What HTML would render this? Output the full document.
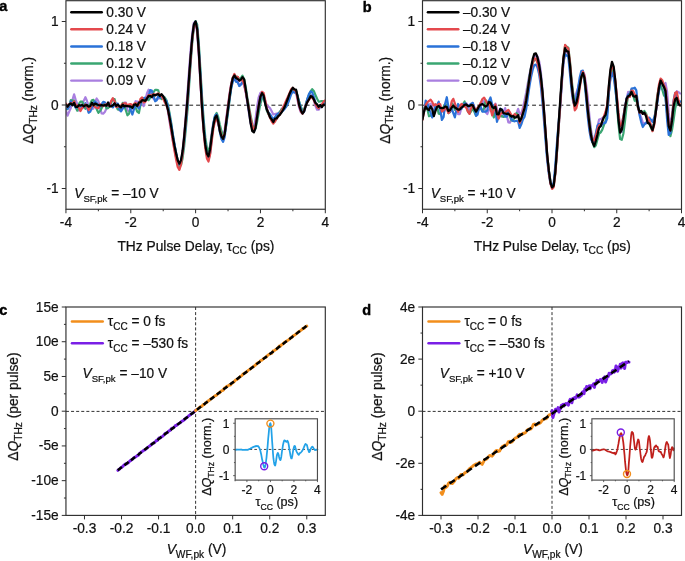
<!DOCTYPE html>
<html><head><meta charset="utf-8"><title>Figure</title>
<style>html,body{margin:0;padding:0;background:#fff}body{width:685px;height:561px;overflow:hidden}</style></head>
<body>
<svg width="685" height="561" viewBox="0 0 685 561" style="display:block">
<style>
text{font-family:"Liberation Sans", Arial, Helvetica, sans-serif;fill:#111;stroke:#111;stroke-width:0.22px}
.t12{font-size:13.7px}
.t13{font-size:13.8px}
.t11{font-size:12.6px}
.t10{font-size:12px}
.lab{font-size:14.5px;font-weight:bold;fill:#000;stroke:#000;stroke-width:0.4px}
</style>
<defs><clipPath id="clipA"><rect x="65.95" y="0.7" width="259.35" height="208.5"/></clipPath><clipPath id="clipB"><rect x="422.5" y="0.7" width="259.0" height="208.5"/></clipPath></defs>
<rect width="685" height="561" fill="#fff"/>
<line x1="65.95" y1="105.2" x2="325.3" y2="105.2" stroke="#1a1a1a" stroke-width="1" stroke-dasharray="3.9 2.95"/>
<g clip-path="url(#clipA)">
<polyline points="66,110.8 67.6,115.7 69.2,111.6 70.8,108.1 72.4,100 74.1,94.4 75.7,99.9 77.3,104.2 78.9,110.4 80.5,109.8 82.2,104 83.8,100.6 85.4,97.2 87,101 88.6,106 90.3,108.6 91.9,109.2 93.5,108.4 95.1,101.8 96.7,98.5 98.4,101.1 100,107 101.6,113.4 103.2,113.6 104.8,112 106.5,108.6 108.1,105.8 109.7,104.1 111.3,100.8 112.9,99.4 114.6,101.4 116.2,104.8 117.8,106.8 119.4,110.4 121,109.1 122.7,106.9 124.3,102.6 125.9,102.6 127.5,110.2 129.1,111.5 130.8,110.1 132.4,108.7 134,105.5 135.6,101.2 137.2,101.6 138.9,102 140.5,101.5 142.1,103.5 143.7,106.1 145.3,100.5 147,93.3 148.6,89.7 150.2,91.7 151.8,96.1 153.4,98.5 155.1,100.3 156.7,98.8 158.3,98.7 159.9,98.2 161.5,95.3 163.2,96.2 164.8,97.8 166.4,102.9 168,111.9 169.6,121.9 171.3,132 172.9,140.9 174.5,148.9 176.1,157.2 177.7,164.5 179.4,167.6 181,162.4 182.6,151.3 184.2,134.7 185.8,115 187.5,92.9 189.1,69.8 190.7,49.3 192.3,32.7 193.9,22.6 195.6,21.7 197.2,33.4 198.8,56.2 200.4,82.6 202,108.4 203.7,130.6 205.3,145.1 206.9,152.7 208.5,154 210.1,145.2 211.8,132.4 213.4,122.2 215,117.5 216.6,118.1 218.2,123.9 219.9,130.5 221.5,134.6 223.1,135.7 224.7,129.7 226.3,117.6 228,105.2 229.6,93.5 231.2,83.9 232.8,77.9 234.4,75.3 236.1,79.8 237.7,81.7 239.3,85.5 240.9,84 242.5,82.3 244.2,85.5 245.8,93 247.4,103 249,113.6 250.6,123.2 252.3,128.5 253.9,128.2 255.5,119.1 257.1,107 258.7,97.3 260.4,93 262,91.8 263.6,95 265.2,101 266.8,105.3 268.5,106.7 270.1,108.3 271.7,111.2 273.3,114.5 274.9,114 276.6,113.7 278.2,113.4 279.8,112 281.4,109.5 283,107.5 284.7,105.6 286.3,103.8 287.9,101 289.5,96.2 291.1,91.4 292.8,89.1 294.4,90 296,92.3 297.6,100.4 299.2,107.9 300.9,112.3 302.5,113.2 304.1,109.8 305.7,104.4 307.3,100.1 309,97 310.6,94.7 312.2,95.4 313.8,99.9 315.4,105.9 317.1,109.7 318.7,109.7 320.3,106 321.9,104.8 323.5,102.8 325.2,103" fill="none" stroke="#a97fe0" stroke-width="2.2" stroke-linejoin="round" stroke-linecap="round"/>
<polyline points="66,108.8 67.6,109.1 69.2,106 70.8,100.1 72.4,100.7 74.1,100.5 75.7,107.3 77.3,110.7 78.9,103.9 80.5,101.7 82.2,101.5 83.8,105.9 85.4,108.8 87,107.3 88.6,106.5 90.3,103.6 91.9,100.3 93.5,99.9 95.1,104.4 96.7,109.2 98.4,112.9 100,110.9 101.6,108.4 103.2,104.5 104.8,103.4 106.5,108.3 108.1,108.1 109.7,106.2 111.3,102.6 112.9,98.9 114.6,99 116.2,105.8 117.8,109.5 119.4,109.7 121,107.2 122.7,102.8 124.3,106 125.9,110.5 127.5,115.3 129.1,113.8 130.8,106.5 132.4,106.4 134,107.2 135.6,107.3 137.2,111.7 138.9,113 140.5,104.9 142.1,99.7 143.7,98.9 145.3,98.8 147,99.4 148.6,100.2 150.2,97.9 151.8,95.8 153.4,92.3 155.1,89.9 156.7,89.9 158.3,90.4 159.9,97.1 161.5,99.1 163.2,96.8 164.8,97.5 166.4,100 168,105.4 169.6,113.1 171.3,123.4 172.9,135.3 174.5,144.7 176.1,152.6 177.7,160.6 179.4,165.9 181,165.2 182.6,158.2 184.2,146 185.8,129.2 187.5,110.2 189.1,86.1 190.7,62.8 192.3,42 193.9,27.2 195.6,21.1 197.2,24.5 198.8,43.4 200.4,69.2 202,96.3 203.7,120 205.3,137.4 206.9,147.6 208.5,151.1 210.1,146.7 211.8,135 213.4,123.3 215,115.9 216.6,113 218.2,116.9 219.9,124.9 221.5,131.3 223.1,134.9 224.7,133.6 226.3,124.8 228,112.7 229.6,99.7 231.2,87.6 232.8,79.3 234.4,75 236.1,76.7 237.7,76.8 239.3,79.1 240.9,78.1 242.5,75.7 244.2,79.4 245.8,87.5 247.4,98.2 249,106.9 250.6,115.5 252.3,124.2 253.9,129.8 255.5,128.7 257.1,121.7 258.7,112.7 260.4,103.8 262,98.2 263.6,98.3 265.2,103.5 266.8,110.5 268.5,114.3 270.1,116.2 271.7,119.6 273.3,122.4 274.9,121.4 276.6,117.3 278.2,114.1 279.8,112 281.4,109.5 283,108.3 284.7,107.9 286.3,106.5 287.9,102.5 289.5,97.2 291.1,91.2 292.8,88.3 294.4,90.2 296,90.3 297.6,95.7 299.2,101.7 300.9,106.9 302.5,110.4 304.1,109.5 305.7,104.8 307.3,99.2 309,95 310.6,91.5 312.2,89.2 313.8,90.9 315.4,94.8 317.1,98.7 318.7,101.7 320.3,101.4 321.9,101 323.5,101.4 325.2,101.2" fill="none" stroke="#3aa672" stroke-width="2.2" stroke-linejoin="round" stroke-linecap="round"/>
<polyline points="66,104.4 67.6,108.8 69.2,106.7 70.8,101.2 72.4,103 74.1,104.6 75.7,107.7 77.3,107.3 78.9,106 80.5,106.2 82.2,107.1 83.8,107.4 85.4,103.2 87,107.2 88.6,112.8 90.3,111.6 91.9,107.2 93.5,103.6 95.1,101.5 96.7,102.9 98.4,107.8 100,106.5 101.6,104.1 103.2,101.9 104.8,102.3 106.5,105.4 108.1,104.1 109.7,103.4 111.3,105.1 112.9,107.3 114.6,104.8 116.2,103.9 117.8,103.5 119.4,108.9 121,111.4 122.7,108.6 124.3,106.9 125.9,104.7 127.5,105.6 129.1,105.5 130.8,110.3 132.4,114.5 134,109.3 135.6,104.4 137.2,106.6 138.9,108.5 140.5,103.8 142.1,99.4 143.7,98 145.3,97.7 147,99.2 148.6,96.1 150.2,90 151.8,90.5 153.4,95.5 155.1,101.3 156.7,100.3 158.3,96 159.9,97.4 161.5,97.1 163.2,97.6 164.8,99.3 166.4,101.1 168,106.7 169.6,115.6 171.3,124.9 172.9,134.9 174.5,144.3 176.1,153.1 177.7,160.7 179.4,164.4 181,161.3 182.6,153.4 184.2,140.7 185.8,124.1 187.5,104.5 189.1,80.6 190.7,58.3 192.3,38.9 193.9,25.9 195.6,21.7 197.2,27.7 198.8,48.1 200.4,74.2 202,101 203.7,126.1 205.3,143.9 206.9,155.3 208.5,159.7 210.1,153.3 211.8,138.4 213.4,124.1 215,115.8 216.6,114.4 218.2,121.9 219.9,132.2 221.5,139.2 223.1,141.8 224.7,136.9 226.3,123.8 228,110.6 229.6,98.6 231.2,88.3 232.8,81.8 234.4,78.2 236.1,81.8 237.7,82.1 239.3,86.1 240.9,84.7 242.5,81.9 244.2,84.5 245.8,91.1 247.4,100.7 249,110.7 250.6,120.4 252.3,128.2 253.9,131.9 255.5,126.3 257.1,116.2 258.7,106.7 260.4,99.6 262,94.8 263.6,96 265.2,102.5 266.8,109 268.5,112.4 270.1,114.2 271.7,116.9 273.3,119.3 274.9,117.3 276.6,114.8 278.2,113.5 279.8,113.1 281.4,111.9 283,110.7 284.7,108.8 286.3,106.3 287.9,103.3 289.5,99.2 291.1,94.3 292.8,91.6 294.4,92.7 296,91.7 297.6,96.7 299.2,102.5 300.9,108.9 302.5,113.2 304.1,111.8 305.7,106 307.3,99.1 309,93.9 310.6,91.5 312.2,92.3 313.8,96.9 315.4,102.4 317.1,106.7 318.7,108.6 320.3,106.8 321.9,106.6 323.5,104.6 325.2,103.8" fill="none" stroke="#2a72d8" stroke-width="2.2" stroke-linejoin="round" stroke-linecap="round"/>
<polyline points="66,103.6 67.6,106.4 69.2,104.3 70.8,103.2 72.4,104 74.1,101.3 75.7,105.1 77.3,105.5 78.9,107.8 80.5,111 82.2,107.9 83.8,106.7 85.4,104.5 87,106.4 88.6,110 90.3,107.6 91.9,103.3 93.5,105.4 95.1,106.8 96.7,107.9 98.4,108.3 100,104.2 101.6,105.1 103.2,106.2 104.8,104.7 106.5,104.4 108.1,105.4 109.7,105.6 111.3,100.8 112.9,98.2 114.6,101.2 116.2,106.9 117.8,106.4 119.4,106.5 121,105.7 122.7,103.7 124.3,103.3 125.9,103.3 127.5,105.8 129.1,104.4 130.8,104.1 132.4,105.6 134,104 135.6,102.8 137.2,105.5 138.9,105.1 140.5,98.8 142.1,97.4 143.7,102.4 145.3,101.8 147,97.8 148.6,95.2 150.2,95.1 151.8,95.7 153.4,94 155.1,94.6 156.7,94.6 158.3,93.3 159.9,94.6 161.5,95.7 163.2,98.9 164.8,102.3 166.4,105.2 168,110.1 169.6,119.5 171.3,130.7 172.9,141.4 174.5,150.9 176.1,159.6 177.7,166.9 179.4,169.9 181,164.7 182.6,153.6 184.2,137.9 185.8,119.6 187.5,100.9 189.1,79.1 190.7,57.7 192.3,38.8 193.9,26.1 195.6,22.6 197.2,30 198.8,51.9 200.4,80 202,109.8 203.7,132.5 205.3,148.6 206.9,158.4 208.5,161.5 210.1,154.5 211.8,140.8 213.4,128.4 215,121.1 216.6,118.6 218.2,122.8 219.9,130 221.5,135.7 223.1,138.3 224.7,133.7 226.3,120.5 228,106.7 229.6,94.4 231.2,84.1 232.8,77.7 234.4,73.9 236.1,77.3 237.7,76.8 239.3,80.6 240.9,80.2 242.5,80 244.2,84.7 245.8,91.9 247.4,100.6 249,109.1 250.6,118.2 252.3,126.1 253.9,130.7 255.5,125.9 257.1,116 258.7,105.7 260.4,97.4 262,91.8 263.6,92.9 265.2,100.2 266.8,108.2 268.5,113.8 270.1,117.8 271.7,121.4 273.3,123.7 274.9,121.6 276.6,118.8 278.2,116.7 279.8,114.6 281.4,111.3 283,107.8 284.7,103.9 286.3,100.2 287.9,96.8 289.5,93.2 291.1,89.4 292.8,87.8 294.4,90 296,90.7 297.6,98.6 299.2,106 300.9,111.5 302.5,113.7 304.1,110.7 305.7,105.8 307.3,102.1 309,99.6 310.6,97.6 312.2,97.4 313.8,100 315.4,103.7 317.1,107.1 318.7,108.3 320.3,105.7 321.9,104.6 323.5,101.7 325.2,100.4" fill="none" stroke="#e4494d" stroke-width="2.2" stroke-linejoin="round" stroke-linecap="round"/>
<polyline points="66,104.7 67.6,106.7 69.2,104.3 70.8,103.5 72.4,105.3 74.1,103 75.7,106.8 77.3,106.9 78.9,105.2 80.5,105.5 82.2,105 83.8,106.3 85.4,105.3 87,105.1 88.6,106.7 90.3,106 91.9,102.7 93.5,105.2 95.1,103.5 96.7,104.3 98.4,105 100,105.3 101.6,105.1 103.2,105.5 104.8,105.2 106.5,105.7 108.1,102.5 109.7,106.3 111.3,106.4 112.9,105.3 114.6,103.3 116.2,106 117.8,104.6 119.4,106.3 121,107.3 122.7,104.6 124.3,106.4 125.9,105.9 127.5,106.1 129.1,106.3 130.8,106.7 132.4,107.9 134,104.8 135.6,104.2 137.2,106 138.9,102.5 140.5,102.2 142.1,100.1 143.7,100.3 145.3,100.9 147,98.5 148.6,95.9 150.2,96.1 151.8,97 153.4,94.7 155.1,95.4 156.7,94.5 158.3,94.1 159.9,96 161.5,94.1 163.2,96.2 164.8,99.5 166.4,104.2 168,109.8 169.6,117.9 171.3,127.4 172.9,137.3 174.5,145.9 176.1,153.5 177.7,160.2 179.4,163.7 181,160.1 182.6,151 184.2,136.6 185.8,118.6 187.5,98.6 189.1,76.4 190.7,55.2 192.3,36.7 193.9,24.4 195.6,21.4 197.2,29.4 198.8,51.5 200.4,79.1 202,107.3 203.7,129.7 205.3,144.9 206.9,153.7 208.5,156.3 210.1,149.2 211.8,135.9 213.4,125.2 215,117.7 216.6,115.5 218.2,121.5 219.9,131.4 221.5,136.6 223.1,138.8 224.7,134 226.3,121.4 228,108.8 229.6,96.4 231.2,85.7 232.8,78.1 234.4,75.5 236.1,78 237.7,79 239.3,80.5 240.9,79.5 242.5,77.1 244.2,79.4 245.8,89.8 247.4,100.9 249,111.3 250.6,123.3 252.3,131.2 253.9,132.4 255.5,128.2 257.1,116.7 258.7,105.8 260.4,96.8 262,93.1 263.6,95.4 265.2,103.6 266.8,109.5 268.5,113.2 270.1,117.5 271.7,119.4 273.3,122 274.9,118.7 276.6,118.5 278.2,116.2 279.8,114.9 281.4,112.7 283,110 284.7,106.9 286.3,102.7 287.9,98.5 289.5,93.9 291.1,90.5 292.8,87.8 294.4,89.4 296,89.5 297.6,96.6 299.2,105.2 300.9,110.5 302.5,113.6 304.1,111.4 305.7,106 307.3,102.1 309,99.2 310.6,96.2 312.2,96.6 313.8,99.3 315.4,102.9 317.1,104.3 318.7,106.8 320.3,104.9 321.9,107.2 323.5,104.7 325.2,105.1" fill="none" stroke="#000" stroke-width="2.25" stroke-linejoin="round" stroke-linecap="round"/>
</g>
<rect x="65.95" y="0.7" width="259.35" height="208.55" fill="none" stroke="#2e2e2e" stroke-width="1.15"/>
<line x1="65.95" y1="209.25" x2="65.95" y2="213.25" stroke="#2e2e2e" stroke-width="1"/>
<text transform="translate(65.95,226.7) scale(1,1.035)" text-anchor="middle" class="t12">-4</text>
<line x1="98.37" y1="209.25" x2="98.37" y2="211.25" stroke="#2e2e2e" stroke-width="1"/>
<line x1="130.79" y1="209.25" x2="130.79" y2="213.25" stroke="#2e2e2e" stroke-width="1"/>
<text transform="translate(130.79,226.7) scale(1,1.035)" text-anchor="middle" class="t12">-2</text>
<line x1="163.21" y1="209.25" x2="163.21" y2="211.25" stroke="#2e2e2e" stroke-width="1"/>
<line x1="195.62" y1="209.25" x2="195.62" y2="213.25" stroke="#2e2e2e" stroke-width="1"/>
<text transform="translate(195.62,226.7) scale(1,1.035)" text-anchor="middle" class="t12">0</text>
<line x1="228.04" y1="209.25" x2="228.04" y2="211.25" stroke="#2e2e2e" stroke-width="1"/>
<line x1="260.46" y1="209.25" x2="260.46" y2="213.25" stroke="#2e2e2e" stroke-width="1"/>
<text transform="translate(260.46,226.7) scale(1,1.035)" text-anchor="middle" class="t12">2</text>
<line x1="292.88" y1="209.25" x2="292.88" y2="211.25" stroke="#2e2e2e" stroke-width="1"/>
<line x1="325.3" y1="209.25" x2="325.3" y2="213.25" stroke="#2e2e2e" stroke-width="1"/>
<text transform="translate(325.3,226.7) scale(1,1.035)" text-anchor="middle" class="t12">4</text>
<line x1="61.75" y1="188.5" x2="65.95" y2="188.5" stroke="#2e2e2e" stroke-width="1"/>
<text transform="translate(58.65,193) scale(1,1.035)" text-anchor="end" class="t12">-1</text>
<line x1="63.95" y1="146.75" x2="65.95" y2="146.75" stroke="#2e2e2e" stroke-width="1"/>
<line x1="61.75" y1="105" x2="65.95" y2="105" stroke="#2e2e2e" stroke-width="1"/>
<text transform="translate(58.65,109.5) scale(1,1.035)" text-anchor="end" class="t12">0</text>
<line x1="63.95" y1="63.25" x2="65.95" y2="63.25" stroke="#2e2e2e" stroke-width="1"/>
<line x1="61.75" y1="21.5" x2="65.95" y2="21.5" stroke="#2e2e2e" stroke-width="1"/>
<text transform="translate(58.65,26) scale(1,1.035)" text-anchor="end" class="t12">1</text>
<line x1="71.35" y1="12.2" x2="101.75" y2="12.2" stroke="#000" stroke-width="2.45" stroke-linecap="round"/>
<text transform="translate(106.35,16.8) scale(1,1.035)" class="t12">0.30 V</text>
<line x1="71.35" y1="29.3" x2="101.75" y2="29.3" stroke="#e4494d" stroke-width="2.45" stroke-linecap="round"/>
<text transform="translate(106.35,33.9) scale(1,1.035)" class="t12">0.24 V</text>
<line x1="71.35" y1="46.4" x2="101.75" y2="46.4" stroke="#2a72d8" stroke-width="2.45" stroke-linecap="round"/>
<text transform="translate(106.35,51) scale(1,1.035)" class="t12">0.18 V</text>
<line x1="71.35" y1="63.5" x2="101.75" y2="63.5" stroke="#3aa672" stroke-width="2.45" stroke-linecap="round"/>
<text transform="translate(106.35,68.1) scale(1,1.035)" class="t12">0.12 V</text>
<line x1="71.35" y1="80.6" x2="101.75" y2="80.6" stroke="#a97fe0" stroke-width="2.45" stroke-linecap="round"/>
<text transform="translate(106.35,85.2) scale(1,1.035)" class="t12">0.09 V</text>
<text transform="translate(74.25,197.7) scale(1,1.035)" class="t12"><tspan font-style="italic">V</tspan><tspan dy="4.2" font-size="9.6">SF,pk</tspan><tspan dy="-4.2"> = –10 V</tspan></text>
<text transform="translate(33.05,100.3) rotate(-90) scale(1,1.035)" text-anchor="middle" class="t13">Δ<tspan font-style="italic">Q</tspan><tspan dy="3.7" font-size="10.2">THz</tspan><tspan dy="-3.7"> (norm.)</tspan></text>
<text transform="translate(195.93,250.5) scale(1,1.035)" text-anchor="middle" class="t13">THz Pulse Delay, τ<tspan dy="3.7" font-size="10.2">CC</tspan><tspan dy="-3.7"> (ps)</tspan></text>
<line x1="422.5" y1="105.2" x2="681.5" y2="105.2" stroke="#1a1a1a" stroke-width="1" stroke-dasharray="3.9 2.95"/>
<g clip-path="url(#clipB)">
<polyline points="422.5,118.5 424.1,110.4 425.7,105.6 427.4,104.9 429,105.3 430.6,103.6 432.2,106.8 433.8,111.4 435.5,106.6 437.1,105.7 438.7,106.3 440.3,107 441.9,110.6 443.6,112.3 445.2,109.5 446.8,107.1 448.4,109.1 450,108.1 451.7,105.4 453.3,104.3 454.9,105 456.5,108.9 458.1,114.2 459.8,114.1 461.4,107.8 463,104.4 464.6,104.4 466.2,103.1 467.9,105.6 469.5,110.7 471.1,109.1 472.7,102.8 474.3,107.1 476,114.8 477.6,111.5 479.2,108.9 480.8,106.5 482.4,99.8 484.1,102.8 485.7,112.2 487.3,114.1 488.9,110.1 490.5,108.7 492.2,112.5 493.8,110 495.4,103.6 497,108.4 498.6,115.2 500.3,115.5 501.9,116.6 503.5,111.9 505.1,108.1 506.7,114.9 508.4,122.4 510,122.6 511.6,118.3 513.2,115.7 514.8,115.5 516.5,113.7 518.1,108.8 519.7,114.4 521.3,113.3 522.9,108.2 524.6,100.3 526.2,92.4 527.8,83.4 529.4,74.5 531,67.7 532.7,62 534.3,57.2 535.9,54.6 537.5,56.3 539.1,61 540.8,71.5 542.4,88.2 544,110.2 545.6,133.4 547.2,155.9 548.9,171.3 550.5,181.8 552.1,185.8 553.7,184.2 555.3,172.4 557,150.9 558.6,128.2 560.2,108 561.8,84.4 563.4,63.5 565.1,50.4 566.7,52.4 568.3,53.2 569.9,65.3 571.5,82.3 573.2,94.7 574.8,98.6 576.4,92.9 578,88 579.6,81.6 581.3,75.3 582.9,71.8 584.5,74.6 586.1,84.4 587.7,97.3 589.4,115.6 591,129.6 592.6,137.8 594.2,140.4 595.8,135.5 597.5,126.2 599.1,119.5 600.7,119.1 602.3,118.2 603.9,116.7 605.6,115.6 607.2,111.1 608.8,93.1 610.4,77.1 612,69.2 613.7,72.3 615.3,82.3 616.9,97.7 618.5,116.1 620.1,131.1 621.8,132 623.4,125.7 625,112.7 626.6,99.1 628.2,91.8 629.9,93.5 631.5,91.4 633.1,94.7 634.7,98.6 636.3,96.9 638,106.2 639.6,113.8 641.2,117.6 642.8,122.7 644.4,123.2 646.1,123.3 647.7,122.6 649.3,122.7 650.9,125 652.5,128.9 654.2,122.4 655.8,111.2 657.4,99.3 659,91.1 660.6,86.6 662.3,86.2 663.9,86.3 665.5,83 667.1,91.6 668.7,112.7 670.4,124.1 672,118 673.6,107 675.2,97.7 676.8,91.2 678.5,92.1 680.1,93.5" fill="none" stroke="#a97fe0" stroke-width="2.2" stroke-linejoin="round" stroke-linecap="round"/>
<polyline points="422.5,113.4 424.1,108.5 425.7,105.8 427.4,109.2 429,116.2 430.6,115.4 432.2,115.6 433.8,115.8 435.5,106.5 437.1,106.5 438.7,113.8 440.3,114.2 441.9,109.6 443.6,106.7 445.2,104.1 446.8,104.7 448.4,113.1 450,112 451.7,103.1 453.3,105.9 454.9,109.9 456.5,108.4 458.1,109.1 459.8,108.4 461.4,107.3 463,104 464.6,101.5 466.2,106 467.9,111.5 469.5,113.6 471.1,111.3 472.7,108.4 474.3,111.8 476,115.5 477.6,111.6 479.2,107.1 480.8,108.6 482.4,111.2 484.1,107.9 485.7,100.3 487.3,102.3 488.9,104.1 490.5,101 492.2,109.9 493.8,117.5 495.4,112.3 497,112.4 498.6,117.2 500.3,116 501.9,116.1 503.5,116.9 505.1,116.2 506.7,112.1 508.4,111.8 510,116.9 511.6,120.5 513.2,120.9 514.8,115.8 516.5,113.2 518.1,114.8 519.7,124.9 521.3,121.2 522.9,113.7 524.6,106 526.2,97.8 527.8,87.4 529.4,77 531,68.5 532.7,63.1 534.3,60.1 535.9,59.1 537.5,61.8 539.1,66.8 540.8,76.4 542.4,92.5 544,114.9 545.6,135.7 547.2,156 548.9,170.8 550.5,181.6 552.1,186.3 553.7,185.4 555.3,173.7 557,151.8 558.6,128.2 560.2,104.6 561.8,79.5 563.4,58.4 565.1,45.3 566.7,46.8 568.3,47.8 569.9,60.5 571.5,78 573.2,93.5 574.8,103.1 576.4,100.5 578,93.7 579.6,84 581.3,76.9 582.9,74.8 584.5,80.9 586.1,93.8 587.7,107.2 589.4,120.9 591,133.3 592.6,142.2 594.2,147.1 595.8,145.5 597.5,139.2 599.1,133.7 600.7,132.4 602.3,129.6 603.9,125.1 605.6,120.7 607.2,112.8 608.8,92.3 610.4,76.8 612,69.8 613.7,73.9 615.3,85.7 616.9,105 618.5,124.6 620.1,139.1 621.8,139.8 623.4,133.5 625,121.1 626.6,105.9 628.2,95.1 629.9,93.1 631.5,89.9 633.1,95.1 634.7,100.8 636.3,99.7 638,108 639.6,111.6 641.2,111.1 642.8,113.2 644.4,111 646.1,113.5 647.7,118.6 649.3,123.6 650.9,127.7 652.5,130.8 654.2,121.4 655.8,107.6 657.4,95 659,87.6 660.6,85.6 662.3,89.8 663.9,95.3 665.5,97.4 667.1,113.6 668.7,128.4 670.4,136.2 672,130 673.6,119.8 675.2,108.4 676.8,101.5 678.5,103.5 680.1,101.7" fill="none" stroke="#3aa672" stroke-width="2.2" stroke-linejoin="round" stroke-linecap="round"/>
<polyline points="422.5,114.8 424.1,112.2 425.7,100.5 427.4,103.2 429,109.6 430.6,112.5 432.2,117.5 433.8,113 435.5,106.8 437.1,105 438.7,101.7 440.3,109.8 441.9,120 443.6,117 445.2,103.6 446.8,97.2 448.4,106.9 450,111.9 451.7,108.6 453.3,113 454.9,117.4 456.5,109.1 458.1,104 459.8,108.4 461.4,108.9 463,105.7 464.6,103.4 466.2,104.7 467.9,106.6 469.5,105 471.1,103.8 472.7,102.9 474.3,107.6 476,115.9 477.6,114.6 479.2,107 480.8,107.2 482.4,111.6 484.1,111.6 485.7,111.6 487.3,110.5 488.9,100.9 490.5,97.5 492.2,104.4 493.8,106.7 495.4,111.1 497,121.8 498.6,116.6 500.3,108.7 501.9,109.5 503.5,112.6 505.1,116.7 506.7,116.7 508.4,110.9 510,113.1 511.6,119.6 513.2,121 514.8,121.3 516.5,120.8 518.1,121.5 519.7,127.9 521.3,124.3 522.9,119.5 524.6,116.6 526.2,109 527.8,97.6 529.4,86.7 531,77.2 532.7,69.7 534.3,65 535.9,64.7 537.5,67.5 539.1,74 540.8,85.7 542.4,102 544,120.8 545.6,141.1 547.2,160.3 548.9,174.4 550.5,184 552.1,186.7 553.7,182.6 555.3,165.5 557,142.2 558.6,123 560.2,104.6 561.8,81.7 563.4,62.6 565.1,54.3 566.7,55.5 568.3,57 569.9,72.9 571.5,89.9 573.2,102.4 574.8,104.8 576.4,98.3 578,88.5 579.6,78.1 581.3,71 582.9,70.7 584.5,80.7 586.1,98.4 587.7,116 589.4,130.5 591,139.4 592.6,142.3 594.2,140.3 595.8,133.4 597.5,125.8 599.1,123.8 600.7,126.3 602.3,124.2 603.9,123.1 605.6,122.6 607.2,118.4 608.8,93.3 610.4,78.4 612,72.8 613.7,77.3 615.3,88.8 616.9,102.8 618.5,117.8 620.1,126 621.8,124.2 623.4,116.3 625,106.5 626.6,98.5 628.2,94.6 629.9,94.1 631.5,88.7 633.1,88.4 634.7,87.7 636.3,90.3 638,104.5 639.6,115.3 641.2,122.1 642.8,127 644.4,124.4 646.1,123.1 647.7,119.9 649.3,117.7 650.9,119.6 652.5,121.8 654.2,117.8 655.8,112.1 657.4,102 659,89.9 660.6,81.5 662.3,82.1 663.9,85.1 665.5,96.2 667.1,119.8 668.7,134.9 670.4,133.1 672,117.4 673.6,100.3 675.2,92.8 676.8,95.1 678.5,104 680.1,101.4" fill="none" stroke="#2a72d8" stroke-width="2.2" stroke-linejoin="round" stroke-linecap="round"/>
<polyline points="422.5,119.9 424.1,111.4 425.7,105.1 427.4,102.1 429,101 430.6,99.6 432.2,101.9 433.8,105.5 435.5,104.1 437.1,106.2 438.7,103.9 440.3,104.4 441.9,111.4 443.6,110.3 445.2,107.4 446.8,108.9 448.4,113.2 450,110.8 451.7,101.4 453.3,98.8 454.9,103.4 456.5,108.8 458.1,111.8 459.8,107.5 461.4,103.9 463,105 464.6,106.4 466.2,107.5 467.9,111.7 469.5,113.9 471.1,108.4 472.7,105.1 474.3,108.5 476,109.6 477.6,107.8 479.2,105.8 480.8,102.6 482.4,99 484.1,97.6 485.7,100.6 487.3,103.5 488.9,103.2 490.5,108.7 492.2,115.5 493.8,110 495.4,104.4 497,113.2 498.6,118.6 500.3,114.3 501.9,112.7 503.5,112.4 505.1,113 506.7,111.1 508.4,109.8 510,112.5 511.6,115.8 513.2,115.9 514.8,114 516.5,115.3 518.1,115.3 519.7,122.8 521.3,118.5 522.9,111.7 524.6,106.1 526.2,98.9 527.8,89.5 529.4,79.8 531,70.3 532.7,62.7 534.3,58.5 535.9,58.6 537.5,63.1 539.1,70 540.8,80.2 542.4,94.1 544,112.3 545.6,132.9 547.2,155.1 548.9,171.8 550.5,183.9 552.1,188.9 553.7,187.2 555.3,174.2 557,151.6 558.6,127.9 560.2,104.8 561.8,79.8 563.4,58.3 565.1,44.9 566.7,47.2 568.3,48.3 569.9,62 571.5,81.4 573.2,99.4 574.8,110.4 576.4,108.1 578,100.9 579.6,88.8 581.3,77.5 582.9,71.7 584.5,76.1 586.1,90.3 587.7,107.9 589.4,124.4 591,135.3 592.6,140.1 594.2,140.6 595.8,135.9 597.5,129.2 599.1,125.3 600.7,124.9 602.3,121.5 603.9,116.3 605.6,111.7 607.2,104.8 608.8,87.7 610.4,72.5 612,64.9 613.7,69 615.3,80.4 616.9,96.1 618.5,112.9 620.1,126 621.8,124.2 623.4,117.1 625,107.2 626.6,100 628.2,96.3 629.9,96.9 631.5,90.7 633.1,91 634.7,94.6 636.3,96 638,107.3 639.6,112.8 641.2,112.2 642.8,113.8 644.4,112.9 646.1,115.2 647.7,117.7 649.3,120.6 650.9,125.2 652.5,131.1 654.2,125 655.8,112.3 657.4,96.5 659,84.5 660.6,78.6 662.3,80.3 663.9,85.1 665.5,88.4 667.1,106.2 668.7,124.5 670.4,130.3 672,118 673.6,101.7 675.2,93 676.8,91.9 678.5,100.4 680.1,105.5" fill="none" stroke="#e4494d" stroke-width="2.2" stroke-linejoin="round" stroke-linecap="round"/>
<polyline points="422.5,119.4 424.1,111.1 425.7,106.6 427.4,109.2 429,110 430.6,106.4 432.2,109.3 433.8,116.1 435.5,110.8 437.1,106.9 438.7,106.1 440.3,107.9 441.9,108.2 443.6,107.9 445.2,106.5 446.8,107 448.4,111.1 450,110.1 451.7,107.5 453.3,105.7 454.9,107.5 456.5,108.5 458.1,109.5 459.8,109.5 461.4,107.6 463,106.6 464.6,104.8 466.2,104.4 467.9,105.8 469.5,106.2 471.1,104.9 472.7,105.3 474.3,108.9 476,111.6 477.6,109.1 479.2,105.9 480.8,104.8 482.4,104 484.1,105.4 485.7,106.6 487.3,105.4 488.9,102.1 490.5,102.6 492.2,106.8 493.8,108 495.4,106.7 497,114.2 498.6,114.3 500.3,108.9 501.9,109.8 503.5,113.2 505.1,113.5 506.7,113.8 508.4,113.7 510,115.3 511.6,116.6 513.2,116.1 514.8,117.8 516.5,117.1 518.1,115.2 519.7,121.3 521.3,118.4 522.9,113.7 524.6,108.1 526.2,100.4 527.8,90 529.4,78.6 531,67.7 532.7,59.1 534.3,53.9 535.9,53.4 537.5,57.5 539.1,64.7 540.8,76 542.4,91.2 544,110.5 545.6,132.8 547.2,154.8 548.9,170.9 550.5,182.6 552.1,187.4 553.7,185.7 555.3,171.8 557,148.4 558.6,124.2 560.2,100.6 561.8,77.7 563.4,58.7 565.1,48.2 566.7,51.2 568.3,51.5 569.9,64.4 571.5,83.4 573.2,98.3 574.8,105.7 576.4,102.7 578,95.7 579.6,86.4 581.3,76.9 582.9,73.1 584.5,77.9 586.1,92.6 587.7,109.6 589.4,124.1 591,135.3 592.6,142.6 594.2,145.9 595.8,141 597.5,134.6 599.1,127.8 600.7,126.1 602.3,121.1 603.9,117.3 605.6,114.9 607.2,106.6 608.8,86.1 610.4,69.8 612,61.8 613.7,66.6 615.3,80.3 616.9,100.2 618.5,120 620.1,132.7 621.8,129.8 623.4,120 625,108.2 626.6,98.6 628.2,96.2 629.9,95.3 631.5,91.8 633.1,95.9 634.7,96.7 636.3,95.8 638,106.6 639.6,112.4 641.2,110.9 642.8,113.9 644.4,112.6 646.1,116.4 647.7,122.9 649.3,123.6 650.9,126.8 652.5,130.1 654.2,123.5 655.8,112 657.4,99.1 659,87.6 660.6,80.6 662.3,83.9 663.9,86.9 665.5,91 667.1,108.3 668.7,126 670.4,130.6 672,120.5 673.6,106.2 675.2,99.4 676.8,97.9 678.5,104 680.1,105.4" fill="none" stroke="#000" stroke-width="2.25" stroke-linejoin="round" stroke-linecap="round"/>
</g>
<rect x="422.5" y="0.7" width="259" height="208.55" fill="none" stroke="#2e2e2e" stroke-width="1.15"/>
<line x1="422.5" y1="209.25" x2="422.5" y2="213.25" stroke="#2e2e2e" stroke-width="1"/>
<text transform="translate(422.5,226.7) scale(1,1.035)" text-anchor="middle" class="t12">-4</text>
<line x1="454.88" y1="209.25" x2="454.88" y2="211.25" stroke="#2e2e2e" stroke-width="1"/>
<line x1="487.25" y1="209.25" x2="487.25" y2="213.25" stroke="#2e2e2e" stroke-width="1"/>
<text transform="translate(487.25,226.7) scale(1,1.035)" text-anchor="middle" class="t12">-2</text>
<line x1="519.62" y1="209.25" x2="519.62" y2="211.25" stroke="#2e2e2e" stroke-width="1"/>
<line x1="552" y1="209.25" x2="552" y2="213.25" stroke="#2e2e2e" stroke-width="1"/>
<text transform="translate(552,226.7) scale(1,1.035)" text-anchor="middle" class="t12">0</text>
<line x1="584.38" y1="209.25" x2="584.38" y2="211.25" stroke="#2e2e2e" stroke-width="1"/>
<line x1="616.75" y1="209.25" x2="616.75" y2="213.25" stroke="#2e2e2e" stroke-width="1"/>
<text transform="translate(616.75,226.7) scale(1,1.035)" text-anchor="middle" class="t12">2</text>
<line x1="649.12" y1="209.25" x2="649.12" y2="211.25" stroke="#2e2e2e" stroke-width="1"/>
<line x1="681.5" y1="209.25" x2="681.5" y2="213.25" stroke="#2e2e2e" stroke-width="1"/>
<text transform="translate(681.5,226.7) scale(1,1.035)" text-anchor="middle" class="t12">4</text>
<line x1="418.3" y1="188.5" x2="422.5" y2="188.5" stroke="#2e2e2e" stroke-width="1"/>
<text transform="translate(415.2,193) scale(1,1.035)" text-anchor="end" class="t12">-1</text>
<line x1="420.5" y1="146.75" x2="422.5" y2="146.75" stroke="#2e2e2e" stroke-width="1"/>
<line x1="418.3" y1="105" x2="422.5" y2="105" stroke="#2e2e2e" stroke-width="1"/>
<text transform="translate(415.2,109.5) scale(1,1.035)" text-anchor="end" class="t12">0</text>
<line x1="420.5" y1="63.25" x2="422.5" y2="63.25" stroke="#2e2e2e" stroke-width="1"/>
<line x1="418.3" y1="21.5" x2="422.5" y2="21.5" stroke="#2e2e2e" stroke-width="1"/>
<text transform="translate(415.2,26) scale(1,1.035)" text-anchor="end" class="t12">1</text>
<line x1="427.9" y1="12.2" x2="458.3" y2="12.2" stroke="#000" stroke-width="2.45" stroke-linecap="round"/>
<text transform="translate(462.9,16.8) scale(1,1.035)" class="t12">–0.30 V</text>
<line x1="427.9" y1="29.3" x2="458.3" y2="29.3" stroke="#e4494d" stroke-width="2.45" stroke-linecap="round"/>
<text transform="translate(462.9,33.9) scale(1,1.035)" class="t12">–0.24 V</text>
<line x1="427.9" y1="46.4" x2="458.3" y2="46.4" stroke="#2a72d8" stroke-width="2.45" stroke-linecap="round"/>
<text transform="translate(462.9,51) scale(1,1.035)" class="t12">–0.18 V</text>
<line x1="427.9" y1="63.5" x2="458.3" y2="63.5" stroke="#3aa672" stroke-width="2.45" stroke-linecap="round"/>
<text transform="translate(462.9,68.1) scale(1,1.035)" class="t12">–0.12 V</text>
<line x1="427.9" y1="80.6" x2="458.3" y2="80.6" stroke="#a97fe0" stroke-width="2.45" stroke-linecap="round"/>
<text transform="translate(462.9,85.2) scale(1,1.035)" class="t12">–0.09 V</text>
<text transform="translate(430.7,197.7) scale(1,1.035)" class="t12"><tspan font-style="italic">V</tspan><tspan dy="4.2" font-size="9.6">SF,pk</tspan><tspan dy="-4.2"> = +10 V</tspan></text>
<text transform="translate(389.6,100.3) rotate(-90) scale(1,1.035)" text-anchor="middle" class="t13">Δ<tspan font-style="italic">Q</tspan><tspan dy="3.7" font-size="10.2">THz</tspan><tspan dy="-3.7"> (norm.)</tspan></text>
<text transform="translate(552.3,250.5) scale(1,1.035)" text-anchor="middle" class="t13">THz Pulse Delay, τ<tspan dy="3.7" font-size="10.2">CC</tspan><tspan dy="-3.7"> (ps)</tspan></text>
<line x1="65.95" y1="411.4" x2="325.3" y2="411.4" stroke="#1a1a1a" stroke-width="0.9" stroke-dasharray="3 2.1"/>
<line x1="195.62" y1="307" x2="195.62" y2="515.4" stroke="#1a1a1a" stroke-width="0.9" stroke-dasharray="3 2.1"/>
<rect x="235.15" y="418.8" width="82.3" height="61.3" fill="#fff"/>
<line x1="235.15" y1="449.45" x2="317.45" y2="449.45" stroke="#333" stroke-width="0.9" stroke-dasharray="2.6 2.2"/>
<polyline points="235.2,449.9 235.6,449.8 236,449.8 236.5,449.7 236.9,449.7 237.3,449.7 237.8,449.7 238.2,449.7 238.6,449.7 239.1,449.7 239.5,449.7 239.9,449.7 240.4,449.7 240.8,449.7 241.2,449.7 241.7,449.7 242.1,449.8 242.5,449.8 243,449.8 243.4,449.8 243.9,449.8 244.3,449.8 244.7,449.8 245.2,449.8 245.6,449.8 246,449.9 246.5,449.9 246.9,449.9 247.3,449.9 247.8,449.8 248.2,449.6 248.6,449.4 249.1,449.2 249.5,449.1 249.9,448.8 250.4,448.5 250.8,448.2 251.3,448 251.7,448 252.1,447.6 252.6,447.3 253,447.2 253.4,446.9 253.9,446.7 254.3,446.7 254.7,446.7 255.2,446.2 255.6,446.2 256,446.3 256.5,446 256.9,445.9 257.3,446.2 257.8,446.3 258.2,446.2 258.6,446.6 259.1,447.5 259.5,448.4 260,449.5 260.4,450.9 260.8,452.7 261.3,454.8 261.7,457.1 262.1,459.3 262.6,461.4 263,463.3 263.4,465 263.9,466.6 264.3,467.6 264.7,467.7 265.2,466.5 265.6,464.4 266,461.5 266.5,457.6 266.9,453.3 267.4,448.7 267.8,443.7 268.2,438.5 268.7,433.6 269.1,429.2 269.5,425.8 270,423.7 270.4,423.2 270.8,424.5 271.3,428.8 271.7,434.5 272.1,440.9 272.6,447.7 273,453.5 273.4,458.2 273.9,461.7 274.3,464.1 274.8,465.2 275.2,465.5 275.6,463.7 276.1,460.8 276.5,457.8 276.9,455.1 277.4,453.7 277.8,452.9 278.2,453.5 278.7,455 279.1,457 279.5,458.6 280,459.6 280.4,460.1 280.8,459.1 281.3,456.7 281.7,453.6 282.1,450.5 282.6,447.6 283,444.9 283.5,442.8 283.9,441.3 284.3,440.3 284.8,440.3 285.2,441.1 285.6,441 286.1,441.9 286.5,441.9 286.9,441.4 287.4,440.7 287.8,441.2 288.2,442.5 288.7,444.6 289.1,447.2 289.5,450 290,452.7 290.4,455.2 290.9,457.2 291.3,458.4 291.7,458.4 292.2,456.6 292.6,454 293,451.4 293.5,448.9 293.9,447.2 294.3,446 294.8,445.9 295.2,446.7 295.6,448.6 296.1,450.2 296.5,451.4 296.9,452.2 297.4,452.9 297.8,453.8 298.3,454.5 298.7,454.9 299.1,454.3 299.6,453.6 300,453 300.4,452.7 300.9,452.4 301.3,452 301.7,451.5 302.2,450.9 302.6,450.2 303,449.4 303.5,448.4 303.9,447.4 304.3,446.3 304.8,445.1 305.2,444.3 305.6,443.9 306.1,444.5 306.5,444.5 307,445.2 307.4,446.9 307.8,448.5 308.3,450 308.7,451.3 309.1,452.1 309.6,451.9 310,451.1 310.4,449.8 310.9,448.7 311.3,447.8 311.7,447.1 312.2,446.7 312.6,446.8 313,447.3 313.5,448.1 313.9,448.8 314.4,449.5 314.8,449.9 315.2,450.1 315.7,449.6 316.1,449.9 316.5,449.8 317,449.5 317.4,449.3" fill="none" stroke="#22a2e8" stroke-width="1.75" stroke-linejoin="round" stroke-linecap="round"/>
<rect x="235.15" y="418.8" width="82.3" height="61.3" fill="none" stroke="#4c4c4c" stroke-width="1.15"/>
<line x1="235.15" y1="480.1" x2="235.15" y2="481.3" stroke="#4c4c4c" stroke-width="0.9"/>
<line x1="246.91" y1="480.1" x2="246.91" y2="482.1" stroke="#4c4c4c" stroke-width="0.9"/>
<text transform="translate(246.91,493.5) scale(1,1.035)" text-anchor="middle" class="t10">-2</text>
<line x1="258.66" y1="480.1" x2="258.66" y2="481.3" stroke="#4c4c4c" stroke-width="0.9"/>
<line x1="270.42" y1="480.1" x2="270.42" y2="482.1" stroke="#4c4c4c" stroke-width="0.9"/>
<text transform="translate(270.42,493.5) scale(1,1.035)" text-anchor="middle" class="t10">0</text>
<line x1="282.18" y1="480.1" x2="282.18" y2="481.3" stroke="#4c4c4c" stroke-width="0.9"/>
<line x1="293.94" y1="480.1" x2="293.94" y2="482.1" stroke="#4c4c4c" stroke-width="0.9"/>
<text transform="translate(293.94,493.5) scale(1,1.035)" text-anchor="middle" class="t10">2</text>
<line x1="305.69" y1="480.1" x2="305.69" y2="481.3" stroke="#4c4c4c" stroke-width="0.9"/>
<line x1="317.45" y1="480.1" x2="317.45" y2="482.1" stroke="#4c4c4c" stroke-width="0.9"/>
<text transform="translate(317.45,493.5) scale(1,1.035)" text-anchor="middle" class="t10">4</text>
<line x1="233.15" y1="475.65" x2="235.15" y2="475.65" stroke="#4c4c4c" stroke-width="0.9"/>
<text transform="translate(229.55,479.95) scale(1,1.035)" text-anchor="end" class="t10">-1</text>
<line x1="233.95" y1="462.55" x2="235.15" y2="462.55" stroke="#4c4c4c" stroke-width="0.9"/>
<line x1="233.15" y1="449.45" x2="235.15" y2="449.45" stroke="#4c4c4c" stroke-width="0.9"/>
<text transform="translate(229.55,453.75) scale(1,1.035)" text-anchor="end" class="t10">0</text>
<line x1="233.95" y1="436.35" x2="235.15" y2="436.35" stroke="#4c4c4c" stroke-width="0.9"/>
<line x1="233.15" y1="423.25" x2="235.15" y2="423.25" stroke="#4c4c4c" stroke-width="0.9"/>
<text transform="translate(229.55,427.55) scale(1,1.035)" text-anchor="end" class="t10">1</text>
<circle cx="270.4" cy="423.6" r="3.5" fill="none" stroke="#f28e1c" stroke-width="1.4"/>
<circle cx="264.2" cy="466.3" r="3.5" fill="none" stroke="#7a1fe6" stroke-width="1.4"/>
<text transform="translate(210.75,456.85) rotate(-90) scale(1,1.035)" text-anchor="middle" class="t11">Δ<tspan font-style="italic">Q</tspan><tspan dy="3.3" font-size="8.6">THz</tspan><tspan dy="-3.3"> (norm.)</tspan></text>
<text transform="translate(276.8,506.4) scale(1,1.035)" text-anchor="middle" class="t11">τ<tspan dy="3.3" font-size="8.6">CC</tspan><tspan dy="-3.3"> (ps)</tspan></text>
<polyline points="117.8,470.4 118.7,469.6 119.6,469.1 120.4,468 121.3,467.5 122.2,466.8 123.1,466.2 123.9,464.9 124.8,464.8 125.7,463.8 126.6,464 127.4,463.3 128.3,462.7 129.2,461.8 130.1,460.7 130.9,460.5 131.8,459.5 132.7,459.1 133.6,457.9 134.4,457.4 135.3,457 136.2,456.7 137.1,455.5 137.9,455.5 138.8,455 139.7,453.1 140.5,452.9 141.4,451.9 142.3,451.5 143.2,450.7 144,450.2 144.9,449.8 145.8,449.1 146.7,448.3 147.5,447.5 148.4,446.9 149.3,446.2 150.2,445.7 151,444.8 151.9,444.3 152.8,443.1 153.7,443.1 154.5,442.7 155.4,441.6 156.3,440.4 157.2,440.6 158,439.4 158.9,437.9 159.8,438.1 160.7,437.7 161.5,436.9 162.4,436.5 163.3,435.7 164.2,434.8 165,433.6 165.9,433.1 166.8,432.9 167.7,432.3 168.5,431.2 169.4,430.6 170.3,430.3 171.1,428.9 172,428.2 172.9,428.1 173.8,427.5 174.6,426.6 175.5,425.4 176.4,425.5 177.3,424.4 178.1,424.3 179,423.4 179.9,422.9 180.8,422.3 181.6,421.3 182.5,421 183.4,420.5 184.3,419.6 185.1,419.2 186,417.9 186.9,417.7 187.8,416.8 188.6,415.8 189.5,415.4 190.4,414.6 191.3,413.9 192.1,413.4 193,413.1 193.9,412 194.8,411.5 195.6,410.3" fill="none" stroke="#7a1fe6" stroke-width="2.9" stroke-linejoin="round" stroke-linecap="round"/>
<polyline points="195.6,410.6 196.9,409.5 198.1,408.8 199.4,407.5 200.6,406.6 201.9,406.3 203.1,404.7 204.4,404.6 205.6,402.7 206.9,402.3 208.1,400.8 209.4,400.3 210.6,399 211.9,398.3 213.1,397.3 214.4,396.3 215.6,395.6 216.9,395 218.1,393.4 219.4,392.9 220.6,391.7 221.9,390.7 223.1,390.4 224.3,388.1 225.6,387.6 226.8,386.3 228.1,385.8 229.3,384.9 230.6,385.1 231.8,383.2 233.1,382.6 234.3,381.5 235.6,380.1 236.8,379.4 238.1,378.8 239.3,377.4 240.6,376.4 241.8,375.6 243.1,374 244.3,373.3 245.6,372.6 246.8,371.8 248.1,370.4 249.3,369.6 250.6,368.7 251.8,367.7 253.1,367 254.3,365.9 255.6,365 256.8,363.5 258.1,362.7 259.3,362.1 260.6,360.6 261.8,360.2 263.1,359 264.3,358 265.6,357.5 266.8,356.1 268.1,355.1 269.3,354.2 270.6,353.5 271.8,353.3 273.1,350.9 274.3,350.6 275.6,349.6 276.8,349 278.1,347.6 279.3,346 280.5,346.2 281.8,344.5 283,343.9 284.3,342.5 285.5,341.7 286.8,340.9 288,340.3 289.3,339.4 290.5,338 291.8,337.4 293,336.1 294.3,335.3 295.5,334.4 296.8,333.6 298,332.3 299.3,331.4 300.5,330.6 301.8,329.6 303,328.4 304.3,328.2 305.5,326.6 306.8,326" fill="none" stroke="#f28e1c" stroke-width="2.9" stroke-linejoin="round" stroke-linecap="round"/>
<line x1="117.82" y1="470.25" x2="306.78" y2="325.76" stroke="#000" stroke-width="2.5" stroke-dasharray="5.2 3.1"/>
<rect x="65.95" y="307" width="259.35" height="208.4" fill="none" stroke="#2e2e2e" stroke-width="1.15"/>
<line x1="84.47" y1="515.4" x2="84.47" y2="519.4" stroke="#2e2e2e" stroke-width="1"/>
<text transform="translate(84.47,532.5) scale(1,1.035)" text-anchor="middle" class="t12">-0.3</text>
<line x1="121.52" y1="515.4" x2="121.52" y2="519.4" stroke="#2e2e2e" stroke-width="1"/>
<text transform="translate(121.52,532.5) scale(1,1.035)" text-anchor="middle" class="t12">-0.2</text>
<line x1="158.57" y1="515.4" x2="158.57" y2="519.4" stroke="#2e2e2e" stroke-width="1"/>
<text transform="translate(158.57,532.5) scale(1,1.035)" text-anchor="middle" class="t12">-0.1</text>
<line x1="195.62" y1="515.4" x2="195.62" y2="519.4" stroke="#2e2e2e" stroke-width="1"/>
<text transform="translate(195.62,532.5) scale(1,1.035)" text-anchor="middle" class="t12">0.0</text>
<line x1="232.68" y1="515.4" x2="232.68" y2="519.4" stroke="#2e2e2e" stroke-width="1"/>
<text transform="translate(232.68,532.5) scale(1,1.035)" text-anchor="middle" class="t12">0.1</text>
<line x1="269.73" y1="515.4" x2="269.73" y2="519.4" stroke="#2e2e2e" stroke-width="1"/>
<text transform="translate(269.73,532.5) scale(1,1.035)" text-anchor="middle" class="t12">0.2</text>
<line x1="306.78" y1="515.4" x2="306.78" y2="519.4" stroke="#2e2e2e" stroke-width="1"/>
<text transform="translate(306.78,532.5) scale(1,1.035)" text-anchor="middle" class="t12">0.3</text>
<line x1="61.75" y1="307" x2="65.95" y2="307" stroke="#2e2e2e" stroke-width="1"/>
<text transform="translate(58.65,311.5) scale(1,1.035)" text-anchor="end" class="t12">15e</text>
<line x1="61.75" y1="341.73" x2="65.95" y2="341.73" stroke="#2e2e2e" stroke-width="1"/>
<text transform="translate(58.65,346.23) scale(1,1.035)" text-anchor="end" class="t12">10e</text>
<line x1="61.75" y1="376.47" x2="65.95" y2="376.47" stroke="#2e2e2e" stroke-width="1"/>
<text transform="translate(58.65,380.97) scale(1,1.035)" text-anchor="end" class="t12">5e</text>
<line x1="61.75" y1="411.2" x2="65.95" y2="411.2" stroke="#2e2e2e" stroke-width="1"/>
<text transform="translate(58.65,415.7) scale(1,1.035)" text-anchor="end" class="t12">0</text>
<line x1="61.75" y1="445.93" x2="65.95" y2="445.93" stroke="#2e2e2e" stroke-width="1"/>
<text transform="translate(58.65,450.43) scale(1,1.035)" text-anchor="end" class="t12">-5e</text>
<line x1="61.75" y1="480.67" x2="65.95" y2="480.67" stroke="#2e2e2e" stroke-width="1"/>
<text transform="translate(58.65,485.17) scale(1,1.035)" text-anchor="end" class="t12">-10e</text>
<line x1="61.75" y1="515.4" x2="65.95" y2="515.4" stroke="#2e2e2e" stroke-width="1"/>
<text transform="translate(58.65,519.9) scale(1,1.035)" text-anchor="end" class="t12">-15e</text>
<line x1="63.95" y1="324.37" x2="65.95" y2="324.37" stroke="#2e2e2e" stroke-width="1"/>
<line x1="63.95" y1="359.1" x2="65.95" y2="359.1" stroke="#2e2e2e" stroke-width="1"/>
<line x1="63.95" y1="393.83" x2="65.95" y2="393.83" stroke="#2e2e2e" stroke-width="1"/>
<line x1="63.95" y1="428.57" x2="65.95" y2="428.57" stroke="#2e2e2e" stroke-width="1"/>
<line x1="63.95" y1="463.3" x2="65.95" y2="463.3" stroke="#2e2e2e" stroke-width="1"/>
<line x1="63.95" y1="498.03" x2="65.95" y2="498.03" stroke="#2e2e2e" stroke-width="1"/>
<line x1="71.95" y1="321.5" x2="102.75" y2="321.5" stroke="#f28e1c" stroke-width="2.45" stroke-linecap="round"/>
<text transform="translate(107.85,326.1) scale(1,1.035)" class="t12">τ<tspan dy="3.6" font-size="10.0">CC</tspan><tspan dy="-3.6"> = 0 fs</tspan></text>
<line x1="71.95" y1="343.2" x2="102.75" y2="343.2" stroke="#7a1fe6" stroke-width="2.45" stroke-linecap="round"/>
<text transform="translate(107.85,347.8) scale(1,1.035)" class="t12">τ<tspan dy="3.6" font-size="10.0">CC</tspan><tspan dy="-3.6"> = –530 fs</tspan></text>
<text transform="translate(82.55,377.5) scale(1,1.035)" class="t12"><tspan font-style="italic">V</tspan><tspan dy="4.2" font-size="9.6">SF,pk</tspan><tspan dy="-4.2"> = –10 V</tspan></text>
<text transform="translate(18.4,406.6) rotate(-90) scale(1,1.035)" text-anchor="middle" class="t13">Δ<tspan font-style="italic">Q</tspan><tspan dy="3.7" font-size="10.2">THz</tspan><tspan dy="-3.7"> (per pulse)</tspan></text>
<text transform="translate(196.53,553.8) scale(1,1.035)" text-anchor="middle" class="t13"><tspan font-style="italic">V</tspan><tspan dy="3.7" font-size="10.2">WF,pk</tspan><tspan dy="-3.7"> (V)</tspan></text>
<line x1="422.5" y1="411.4" x2="681.5" y2="411.4" stroke="#1a1a1a" stroke-width="0.9" stroke-dasharray="3 2.1"/>
<line x1="552" y1="307" x2="552" y2="515.4" stroke="#1a1a1a" stroke-width="0.9" stroke-dasharray="3 2.1"/>
<rect x="591.9" y="418.8" width="82.3" height="61.3" fill="#fff"/>
<line x1="591.9" y1="449.45" x2="674.2" y2="449.45" stroke="#333" stroke-width="0.9" stroke-dasharray="2.6 2.2"/>
<polyline points="591.9,450.5 592.3,450.5 592.8,450.5 593.2,450.5 593.6,450.4 594.1,450.2 594.5,450.1 595,449.9 595.4,449.8 595.8,449.7 596.3,449.6 596.7,449.6 597.1,449.7 597.6,449.8 598,450 598.4,450.1 598.9,450.3 599.3,450.3 599.7,450.3 600.2,450.3 600.6,450.1 601.1,450 601.5,449.8 601.9,449.7 602.4,449.6 602.8,449.5 603.2,449.4 603.7,449.4 604.1,449.4 604.5,449.5 605,449.6 605.4,449.9 605.8,450.2 606.3,450.5 606.7,450.8 607.2,451.1 607.6,451.3 608,451.4 608.5,451.5 608.9,451.6 609.3,451.7 609.8,451.8 610.2,452 610.6,452.2 611.1,452.3 611.5,452.4 611.9,452.8 612.4,453 612.8,452.9 613.3,452.9 613.7,453.2 614.1,453.4 614.6,452.8 615,453.4 615.4,454.4 615.9,453.8 616.3,452.9 616.7,451.6 617.2,450.3 617.6,448.5 618,446.2 618.5,443.7 618.9,441 619.4,438.5 619.8,436.3 620.2,434.5 620.7,433.4 621.1,433.1 621.5,433.8 622,435 622.4,436.7 622.8,439.2 623.3,442.3 623.7,446.1 624.1,450.6 624.6,455.7 625,461.2 625.5,465.9 625.9,469.6 626.3,472.6 626.8,474.5 627.2,475.4 627.6,475 628.1,472.8 628.5,468.4 628.9,462.5 629.4,456.9 629.8,451.4 630.2,445.9 630.7,440.7 631.1,436 631.6,432.6 632,431.8 632.4,432.6 632.9,432.8 633.3,434.7 633.7,438.5 634.2,442.5 634.6,446.2 635,448.9 635.5,449.7 635.9,448.9 636.4,447.6 636.8,445.4 637.2,443 637.7,440.9 638.1,439.5 638.5,439.8 639,441.6 639.4,445 639.8,448.7 640.3,452.5 640.7,456 641.1,458.7 641.6,460.6 642,461.7 642.5,462 642.9,461.1 643.3,459.4 643.8,457.8 644.2,456.6 644.6,456.2 645.1,455.7 645.5,454.5 645.9,453.5 646.4,452.6 646.8,451.4 647.2,449.2 647.7,443.8 648.1,439.5 648.6,436.9 649,436 649.4,437.2 649.9,439.8 650.3,443.7 650.7,448.6 651.2,453.2 651.6,457.1 652,457.9 652.5,457.1 652.9,455.1 653.3,452.3 653.8,449.4 654.2,447.6 654.7,446.5 655.1,446.7 655.5,446.8 656,445.4 656.4,445.8 656.8,446.6 657.3,446.8 657.7,446.8 658.1,449.2 658.6,450.9 659,451.4 659.4,451.3 659.9,451.7 660.3,452 660.8,451.8 661.2,452.9 661.6,453.9 662.1,454.6 662.5,455.4 662.9,456.2 663.4,457.4 663.8,456.9 664.2,454.9 664.7,452.3 665.1,449.3 665.5,446.3 666,443.9 666.4,442.4 666.9,442 667.3,443.2 667.7,443.9 668.2,444.4 668.6,447.7 669,452.3 669.5,456 669.9,458 670.3,456.3 670.8,453.5 671.2,450.4 671.6,448.3 672.1,447.1 672.5,447.5 673,449.2 673.4,450.4 673.8,448.4" fill="none" stroke="#c0201c" stroke-width="1.75" stroke-linejoin="round" stroke-linecap="round"/>
<rect x="591.9" y="418.8" width="82.3" height="61.3" fill="none" stroke="#4c4c4c" stroke-width="1.15"/>
<line x1="591.9" y1="480.1" x2="591.9" y2="481.3" stroke="#4c4c4c" stroke-width="0.9"/>
<line x1="603.66" y1="480.1" x2="603.66" y2="482.1" stroke="#4c4c4c" stroke-width="0.9"/>
<text transform="translate(603.66,493.5) scale(1,1.035)" text-anchor="middle" class="t10">-2</text>
<line x1="615.41" y1="480.1" x2="615.41" y2="481.3" stroke="#4c4c4c" stroke-width="0.9"/>
<line x1="627.17" y1="480.1" x2="627.17" y2="482.1" stroke="#4c4c4c" stroke-width="0.9"/>
<text transform="translate(627.17,493.5) scale(1,1.035)" text-anchor="middle" class="t10">0</text>
<line x1="638.93" y1="480.1" x2="638.93" y2="481.3" stroke="#4c4c4c" stroke-width="0.9"/>
<line x1="650.69" y1="480.1" x2="650.69" y2="482.1" stroke="#4c4c4c" stroke-width="0.9"/>
<text transform="translate(650.69,493.5) scale(1,1.035)" text-anchor="middle" class="t10">2</text>
<line x1="662.44" y1="480.1" x2="662.44" y2="481.3" stroke="#4c4c4c" stroke-width="0.9"/>
<line x1="674.2" y1="480.1" x2="674.2" y2="482.1" stroke="#4c4c4c" stroke-width="0.9"/>
<text transform="translate(674.2,493.5) scale(1,1.035)" text-anchor="middle" class="t10">4</text>
<line x1="589.9" y1="475.65" x2="591.9" y2="475.65" stroke="#4c4c4c" stroke-width="0.9"/>
<text transform="translate(586.3,479.95) scale(1,1.035)" text-anchor="end" class="t10">-1</text>
<line x1="590.7" y1="462.55" x2="591.9" y2="462.55" stroke="#4c4c4c" stroke-width="0.9"/>
<line x1="589.9" y1="449.45" x2="591.9" y2="449.45" stroke="#4c4c4c" stroke-width="0.9"/>
<text transform="translate(586.3,453.75) scale(1,1.035)" text-anchor="end" class="t10">0</text>
<line x1="590.7" y1="436.35" x2="591.9" y2="436.35" stroke="#4c4c4c" stroke-width="0.9"/>
<line x1="589.9" y1="423.25" x2="591.9" y2="423.25" stroke="#4c4c4c" stroke-width="0.9"/>
<text transform="translate(586.3,427.55) scale(1,1.035)" text-anchor="end" class="t10">1</text>
<circle cx="627.0" cy="474.0" r="3.5" fill="none" stroke="#f28e1c" stroke-width="1.4"/>
<circle cx="620.8" cy="432.5" r="3.5" fill="none" stroke="#7a1fe6" stroke-width="1.4"/>
<text transform="translate(567.5,456.85) rotate(-90) scale(1,1.035)" text-anchor="middle" class="t11">Δ<tspan font-style="italic">Q</tspan><tspan dy="3.3" font-size="8.6">THz</tspan><tspan dy="-3.3"> (norm.)</tspan></text>
<text transform="translate(633.55,506.4) scale(1,1.035)" text-anchor="middle" class="t11">τ<tspan dy="3.3" font-size="8.6">CC</tspan><tspan dy="-3.3"> (ps)</tspan></text>
<polyline points="441,492.6 442.2,494.4 443.5,491.1 444.7,486 446,487.5 447.2,486.3 448.5,483.3 449.7,482.2 451,483.2 452.2,483.6 453.5,482.3 454.7,480.8 456,478.6 457.2,477.6 458.5,478.3 459.7,476.8 461,474.5 462.2,474.9 463.4,474.7 464.7,472.9 465.9,472.3 467.2,471.6 468.4,469.9 469.7,468.5 470.9,467.7 472.2,466.7 473.4,465.6 474.7,464.8 475.9,463.9 477.2,463.9 478.4,463.2 479.7,462.2 480.9,463.4 482.2,464.4 483.4,462.1 484.7,459.4 485.9,459.4 487.1,458.7 488.4,456.7 489.6,455.5 490.9,455.7 492.1,456.2 493.4,454.6 494.6,452.2 495.9,450.7 497.1,450.5 498.4,451.5 499.6,451 500.9,448.3 502.1,446.8 503.4,446 504.6,445.1 505.9,445.4 507.1,444.2 508.3,441.6 509.6,441.3 510.8,442.5 512.1,442 513.3,440.4 514.6,438.6 515.8,437.8 517.1,437.4 518.3,435.7 519.6,434.3 520.8,434.7 522.1,434.4 523.3,433.1 524.6,433.2 525.8,432.3 527.1,430.1 528.3,429.3 529.6,429.2 530.8,429 532,427.5 533.3,424.6 534.5,423.9 535.8,425.1 537,424.7 538.3,423.6 539.5,423.5 540.8,422.4 542,420.5 543.3,419.6 544.5,418.8 545.8,418.9 547,418.1 548.3,415.6 549.5,414.8 550.8,414.2 552,413.2" fill="none" stroke="#f28e1c" stroke-width="2.9" stroke-linejoin="round" stroke-linecap="round"/>
<polyline points="552,410.8 552.9,417.5 553.7,414.5 554.6,412.5 555.5,409.3 556.3,409.5 557.2,410.5 558.1,407.6 558.9,412 559.8,408.6 560.6,408.5 561.5,405.1 562.4,404.8 563.2,404.4 564.1,405.9 565,404.2 565.8,403.6 566.7,404.2 567.6,403.4 568.4,405.2 569.3,401.4 570.2,399.3 571,400.6 571.9,402.8 572.8,398.4 573.6,398.9 574.5,397.6 575.3,398.5 576.2,397.6 577.1,394.9 577.9,395.5 578.8,397.1 579.7,396.8 580.5,395.9 581.4,395.2 582.3,392.3 583.1,391.7 584,393.6 584.9,388.9 585.7,390.5 586.6,386.5 587.5,388.7 588.3,387.5 589.2,385.9 590,388.8 590.9,385.7 591.8,385.8 592.6,385.4 593.5,383.9 594.4,387.4 595.2,383.2 596.1,383.9 597,380.4 597.8,381.4 598.7,381.1 599.6,380.6 600.4,379.5 601.3,380.3 602.2,382.4 603,378.6 603.9,378 604.7,376.9 605.6,381.9 606.5,379.5 607.3,376.9 608.2,376.6 609.1,373.3 609.9,373.8 610.8,373.9 611.7,373.1 612.5,370.7 613.4,370.2 614.3,372.1 615.1,371.2 616,365.9 616.9,369.6 617.7,371.2 618.6,367 619.4,368.1 620.3,364.2 621.2,368 622,363.7 622.9,362.9 623.8,364.1 624.6,368.6 625.5,362.3 626.4,362.2 627.2,362.6 628.1,361.9 629,362.1" fill="none" stroke="#7a1fe6" stroke-width="3.0" stroke-linejoin="round" stroke-linecap="round"/>
<line x1="441" y1="489.35" x2="628.96" y2="361.18" stroke="#000" stroke-width="2.5" stroke-dasharray="6.4 3.9"/>
<rect x="422.5" y="307" width="259" height="208.4" fill="none" stroke="#2e2e2e" stroke-width="1.15"/>
<line x1="441" y1="515.4" x2="441" y2="519.4" stroke="#2e2e2e" stroke-width="1"/>
<text transform="translate(441,532.5) scale(1,1.035)" text-anchor="middle" class="t12">-0.3</text>
<line x1="478" y1="515.4" x2="478" y2="519.4" stroke="#2e2e2e" stroke-width="1"/>
<text transform="translate(478,532.5) scale(1,1.035)" text-anchor="middle" class="t12">-0.2</text>
<line x1="515" y1="515.4" x2="515" y2="519.4" stroke="#2e2e2e" stroke-width="1"/>
<text transform="translate(515,532.5) scale(1,1.035)" text-anchor="middle" class="t12">-0.1</text>
<line x1="552" y1="515.4" x2="552" y2="519.4" stroke="#2e2e2e" stroke-width="1"/>
<text transform="translate(552,532.5) scale(1,1.035)" text-anchor="middle" class="t12">0.0</text>
<line x1="589" y1="515.4" x2="589" y2="519.4" stroke="#2e2e2e" stroke-width="1"/>
<text transform="translate(589,532.5) scale(1,1.035)" text-anchor="middle" class="t12">0.1</text>
<line x1="626" y1="515.4" x2="626" y2="519.4" stroke="#2e2e2e" stroke-width="1"/>
<text transform="translate(626,532.5) scale(1,1.035)" text-anchor="middle" class="t12">0.2</text>
<line x1="663" y1="515.4" x2="663" y2="519.4" stroke="#2e2e2e" stroke-width="1"/>
<text transform="translate(663,532.5) scale(1,1.035)" text-anchor="middle" class="t12">0.3</text>
<line x1="418.3" y1="307" x2="422.5" y2="307" stroke="#2e2e2e" stroke-width="1"/>
<text transform="translate(415.2,311.5) scale(1,1.035)" text-anchor="end" class="t12">4e</text>
<line x1="418.3" y1="359.1" x2="422.5" y2="359.1" stroke="#2e2e2e" stroke-width="1"/>
<text transform="translate(415.2,363.6) scale(1,1.035)" text-anchor="end" class="t12">2e</text>
<line x1="418.3" y1="411.2" x2="422.5" y2="411.2" stroke="#2e2e2e" stroke-width="1"/>
<text transform="translate(415.2,415.7) scale(1,1.035)" text-anchor="end" class="t12">0</text>
<line x1="418.3" y1="463.3" x2="422.5" y2="463.3" stroke="#2e2e2e" stroke-width="1"/>
<text transform="translate(415.2,467.8) scale(1,1.035)" text-anchor="end" class="t12">-2e</text>
<line x1="418.3" y1="515.4" x2="422.5" y2="515.4" stroke="#2e2e2e" stroke-width="1"/>
<text transform="translate(415.2,519.9) scale(1,1.035)" text-anchor="end" class="t12">-4e</text>
<line x1="420.5" y1="333.05" x2="422.5" y2="333.05" stroke="#2e2e2e" stroke-width="1"/>
<line x1="420.5" y1="385.15" x2="422.5" y2="385.15" stroke="#2e2e2e" stroke-width="1"/>
<line x1="420.5" y1="437.25" x2="422.5" y2="437.25" stroke="#2e2e2e" stroke-width="1"/>
<line x1="420.5" y1="489.35" x2="422.5" y2="489.35" stroke="#2e2e2e" stroke-width="1"/>
<line x1="428.5" y1="321.5" x2="459.3" y2="321.5" stroke="#f28e1c" stroke-width="2.45" stroke-linecap="round"/>
<text transform="translate(464.4,326.1) scale(1,1.035)" class="t12">τ<tspan dy="3.6" font-size="10.0">CC</tspan><tspan dy="-3.6"> = 0 fs</tspan></text>
<line x1="428.5" y1="343.2" x2="459.3" y2="343.2" stroke="#7a1fe6" stroke-width="2.45" stroke-linecap="round"/>
<text transform="translate(464.4,347.8) scale(1,1.035)" class="t12">τ<tspan dy="3.6" font-size="10.0">CC</tspan><tspan dy="-3.6"> = –530 fs</tspan></text>
<text transform="translate(439.8,377.5) scale(1,1.035)" class="t12"><tspan font-style="italic">V</tspan><tspan dy="4.2" font-size="9.6">SF,pk</tspan><tspan dy="-4.2"> = +10 V</tspan></text>
<text transform="translate(382.2,406.6) rotate(-90) scale(1,1.035)" text-anchor="middle" class="t13">Δ<tspan font-style="italic">Q</tspan><tspan dy="3.7" font-size="10.2">THz</tspan><tspan dy="-3.7"> (per pulse)</tspan></text>
<text transform="translate(552.9,553.8) scale(1,1.035)" text-anchor="middle" class="t13"><tspan font-style="italic">V</tspan><tspan dy="3.7" font-size="10.2">WF,pk</tspan><tspan dy="-3.7"> (V)</tspan></text>
<text x="-0.8" y="11.4" class="lab">a</text>
<text x="362.7" y="11.6" class="lab">b</text>
<text x="-0.8" y="315.2" class="lab">c</text>
<text x="362.3" y="315.2" class="lab">d</text>
</svg>
</body></html>
